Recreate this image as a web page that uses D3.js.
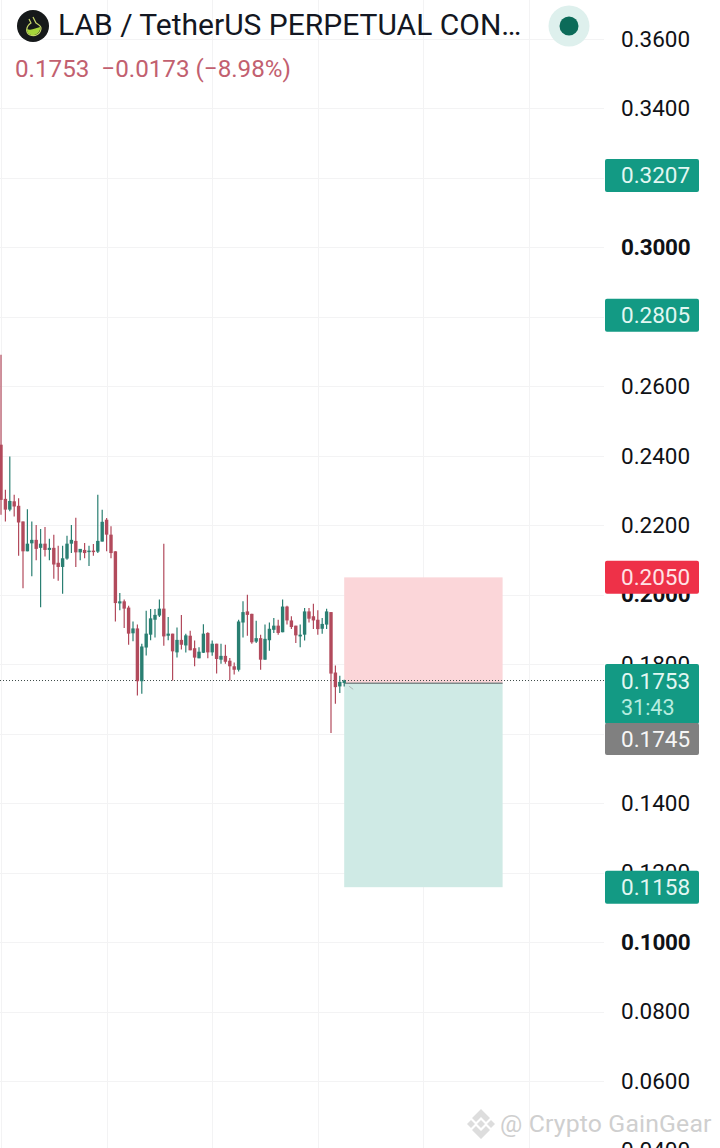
<!DOCTYPE html>
<html><head><meta charset="utf-8">
<script src="https://cdn.jsdelivr.net/npm/d3@7"></script>
<style>html,body{margin:0;padding:0;background:#fff;overflow:hidden}svg{display:block;font-family:Roboto,sans-serif}</style>
</head><body><div id="chart"></div>
<script>
const opens=[.2432,.2276,.2245,.2269,.2256,.2211,.2125,.2148,.2158,.2135,.2147,.2129,.2135,.2092,.2080,.2104,.2147,.2155,.2122,.2129,.2123,.2127,.2124,.2153,.2216,.2173,.2125,.1975,.1981,.1963,.1889,.1903,.1751,.1848,.1885,.1928,.1940,.1960,.1882,.1888,.1834,.1870,.1854,.1882,.1846,.1817,.1833,.1890,.1834,.1859,.1813,.1824,.1810,.1794,.1784,.1920,.1952,.1945,.1865,.1875,.1813,.1869,.1899,.1911,.1892,.1966,.1926,.1911,.1880,.1885,.1952,.1938,.1928,.1902,.1914,.1950,.1776,.1736,.1746];
const highs=[.2691,.2302,.2398,.2288,.2278,.2211,.2246,.2211,.2201,.2189,.2195,.2161,.2173,.2141,.2141,.2170,.2201,.2222,.2132,.2149,.2141,.2146,.2288,.2245,.2221,.2197,.2125,.2005,.1986,.1968,.1923,.1914,.1859,.1954,.1959,.1959,.1986,.2147,.1936,.1888,.1906,.1942,.1888,.1896,.1868,.1849,.1915,.1892,.1868,.1859,.1859,.1856,.1818,.1805,.1928,.1981,.2000,.1945,.1925,.1885,.1914,.1920,.1933,.1928,.1986,.1968,.1938,.1911,.1914,.1962,.1962,.1974,.1955,.1933,.1960,.1950,.1796,.1767,.1755];
const lows=[.2230,.2211,.2240,.2225,.2112,.2019,.2125,.2053,.2099,.1964,.2110,.2099,.2046,.2040,.2003,.2101,.2120,.2080,.2099,.2105,.2083,.2112,.2120,.2153,.2125,.2105,.1923,.1955,.1904,.1856,.1866,.1710,.1715,.1825,.1869,.1877,.1936,.1853,.1869,.1753,.1819,.1842,.1834,.1840,.1794,.1817,.1832,.1817,.1824,.1773,.1801,.1801,.1753,.1770,.1779,.1877,.1882,.1859,.1861,.1784,.1813,.1839,.1890,.1885,.1892,.1914,.1901,.1861,.1849,.1868,.1920,.1901,.1885,.1888,.1901,.1602,.1686,.1717,.1736];
const closes=[.2273,.2245,.2270,.2254,.2208,.2125,.2147,.2158,.2132,.2147,.2129,.2135,.2087,.2080,.2105,.2147,.2158,.2122,.2132,.2120,.2127,.2123,.2155,.2210,.2173,.2120,.1976,.1981,.1960,.1888,.1903,.1751,.1851,.1888,.1932,.1942,.1960,.1880,.1888,.1837,.1870,.1856,.1883,.1840,.1819,.1836,.1888,.1834,.1859,.1815,.1824,.1807,.1794,.1784,.1923,.1950,.1942,.1863,.1875,.1813,.1873,.1902,.1911,.1890,.1966,.1926,.1907,.1883,.1885,.1952,.1931,.1926,.1901,.1916,.1952,.1773,.1734,.1749,.1753];
const priceTicks=[.36,.34,.32,.30,.28,.26,.24,.22,.20,.18,.16,.14,.12,.10,.08,.06,.04];
const boldTicks=[.30,.20,.10];
const timeGrid=[0,24,48,72,96,120];
const stopPrice=.2050, entryPrice=.1745, targetPrice=.1158, lastPrice=.1753;
const positionStart=78, positionEnd=114;
const priceTags=[{v:.3207,label:"0.3207",c:"#139a84"},{v:.2805,label:"0.2805",c:"#139a84"},{v:.2050,label:"0.2050",c:"#ee3148"},{v:.1158,label:"0.1158",c:"#139a84"}];
const titleText="LAB / TetherUS PERPETUAL CON…";
const legendText="0.1753\u00a0\u00a0−0.0173 (−8.98%)";
const countdown="31:43";

const W=720,H=1148,plotR=604;
const y=d3.scaleLinear().domain([.36,.06]).range([39,1081]);
const x=d3.scaleLinear().domain([0,78]).range([1,344.2]);
const RED="#b24a5c",GREEN="#2a7f72";
const svg=d3.select("#chart").append("svg").attr("width",W).attr("height",H).attr("viewBox",`0 0 ${W} ${H}`);
svg.append("rect").attr("width",W).attr("height",H).attr("fill","#fff");

const grid=svg.append("g").attr("stroke","#f3f3f4").attr("stroke-width",1);
grid.selectAll("line.h").data(priceTicks).join("line").attr("class","h").attr("x1",0).attr("x2",plotR).attr("y1",d=>Math.round(y(d))+.5).attr("y2",d=>Math.round(y(d))+.5);
grid.selectAll("line.v").data(timeGrid.filter(d=>x(d)<plotR)).join("line").attr("class","v").attr("y1",0).attr("y2",H).attr("x1",d=>Math.round(x(d))+.5).attr("x2",d=>Math.round(x(d))+.5);

// position tool
const pos=svg.append("g");
pos.append("rect").attr("x",x(positionStart)).attr("width",x(positionEnd)-x(positionStart)).attr("y",y(stopPrice)).attr("height",y(entryPrice)-y(stopPrice)).attr("fill","#fbd6d9");
pos.append("rect").attr("x",x(positionStart)).attr("width",x(positionEnd)-x(positionStart)).attr("y",y(entryPrice)).attr("height",y(targetPrice)-y(entryPrice)).attr("fill","#cfeae5");
pos.append("line").attr("x1",x(positionStart)).attr("x2",x(positionEnd)).attr("y1",y(entryPrice)).attr("y2",y(entryPrice)).attr("stroke","#7c8a8a").attr("stroke-width",1.5);
pos.append("line").attr("x1",x(positionStart)+5).attr("x2",x(positionStart)+9).attr("y1",y(entryPrice)+3).attr("y2",y(entryPrice)+6).attr("stroke","#a9b4b4").attr("stroke-width",1);

// last-price line
svg.append("line").attr("x1",0).attr("x2",plotR).attr("y1",y(lastPrice)).attr("y2",y(lastPrice)).attr("stroke","#3c4a48").attr("stroke-width",1).attr("stroke-dasharray","1 2");

// candles
const candles=opens.map((o,i)=>({i,o,h:highs[i],l:lows[i],c:closes[i]}));
const cg=svg.append("g").selectAll("g").data(candles).join("g").attr("fill",d=>d.c>=d.o?GREEN:RED).attr("stroke",d=>d.c>=d.o?GREEN:RED);
cg.append("line").attr("x1",d=>x(d.i)).attr("x2",d=>x(d.i)).attr("y1",d=>y(d.h)).attr("y2",d=>y(d.l)).attr("stroke-width",1.2);
cg.append("rect").attr("x",d=>x(d.i)-1.7).attr("width",3.4).attr("y",d=>y(Math.max(d.o,d.c))).attr("height",d=>Math.max(1.5,Math.abs(y(d.o)-y(d.c)))).attr("stroke","none");

// price axis
const axis=d3.axisRight(y).tickValues(priceTicks).tickSize(0).tickPadding(0).tickFormat(d3.format(".4f"));
const ag=svg.append("g").attr("transform","translate(621,0)").call(axis);
ag.select(".domain").remove();
ag.selectAll("text").attr("font-family","Roboto,sans-serif").attr("font-size",22.5).attr("fill","#101216").attr("dy","0.32em")
  .attr("font-weight",d=>boldTicks.includes(d)?700:400)
  .attr("letter-spacing",d=>boldTicks.includes(d)?-.3:0);

// price tags
const tag=svg.append("g");
const tagText=(t,yy,fill)=>tag.append("text").text(t).attr("x",621).attr("y",yy).attr("dy","0.35em").attr("font-size",22.5).attr("fill",fill);
priceTags.forEach(d=>{
  tag.append("rect").attr("x",605).attr("y",y(d.v)-16.5).attr("width",94).attr("height",33).attr("rx",2).attr("fill",d.c);
  tagText(d.label,y(d.v),d.c==="#ee3148"?"#ffe3e6":"#e2f7f2");
});
tag.append("rect").attr("x",605).attr("y",664).attr("width",94).attr("height",60).attr("rx",2).attr("fill","#139a84");
tag.append("rect").attr("x",605).attr("y",723).attr("width",94).attr("height",32).attr("rx",2).attr("fill","#808080");
tagText(d3.format(".4f")(lastPrice),681,"#e2f7f2");
tagText(countdown,707,"#b5ecdf").attr("font-size",21.5);
tagText(d3.format(".4f")(entryPrice),739,"#f6f6f6");

// header
svg.append("circle").attr("cx",33).attr("cy",26).attr("r",16).attr("fill","#16191a");
svg.append("path").attr("d","M29 19 L31 23 C26 26 25 33 30 35 C35 37 41 34 41 28 C41 26 39 25 36 23 L33 17").attr("fill","none").attr("stroke","#c8d86a").attr("stroke-width",1.2);
svg.append("path").attr("d","M27 29 C31 31 36 28 40 27 C41 32 36 36 31 35 C28 34 27 32 27 29Z").attr("fill","#a6d63a");
svg.append("text").text(titleText).attr("x",58).attr("y",35).attr("font-size",30).attr("fill","#131722");
svg.append("text").text(legendText).attr("x",15).attr("y",76.5).attr("font-size",24.2).attr("fill","#c2606f");
svg.append("circle").attr("cx",569).attr("cy",26).attr("r",20.5).attr("fill","#def0ed");
svg.append("circle").attr("cx",569).attr("cy",26).attr("r",9.5).attr("fill","#0c6b59");

// watermark
const wm=svg.append("g").attr("fill","#cfcfcf");
wm.append("path").attr("d","M481 1109 L490 1118 L486 1122 L481 1117 L476 1122 L472 1118Z M467 1124 L471 1120 L475 1124 L471 1128Z M487 1124 L491 1120 L495 1124 L491 1128Z M481 1120 L485 1124 L481 1128 L477 1124Z M472 1130 L476 1126 L481 1131 L486 1126 L490 1130 L481 1139Z").attr("fill","#dddddd");
wm.append("text").text("@ Crypto GainGear").attr("x",500).attr("y",1132).attr("font-size",24.8).attr("letter-spacing",.15);
</script></body></html>
